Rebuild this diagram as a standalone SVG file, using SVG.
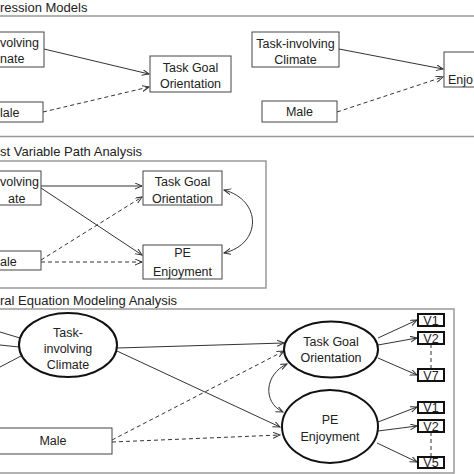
<svg xmlns="http://www.w3.org/2000/svg" width="474" height="474" viewBox="0 0 474 474">
<defs>
<marker id="ah" markerWidth="8" markerHeight="8" refX="7" refY="3" orient="auto" markerUnits="userSpaceOnUse">
<path d="M0,0 L7,3 L0,6" fill="none" stroke="#333" stroke-width="1"/>
</marker>
<marker id="ahs" markerWidth="8" markerHeight="8" refX="7" refY="3" orient="auto-start-reverse" markerUnits="userSpaceOnUse">
<path d="M0,0 L7,3 L0,6" fill="none" stroke="#333" stroke-width="1"/>
</marker>
<style>
text{font-family:"Liberation Sans",Arial,sans-serif;font-size:12.5px;fill:#222}
.t{font-size:13px}
.c{text-anchor:middle}
.box{fill:#fff;stroke:#444;stroke-width:1}
.vb{fill:#fff;stroke:#111;stroke-width:2}
.ell{fill:#fff;stroke:#111;stroke-width:2}
.sec{fill:none;stroke:#999;stroke-width:1.5}
.ln{fill:none;stroke:#333;stroke-width:1}
.ar{fill:none;stroke:#333;stroke-width:1;marker-end:url(#ah)}
.da{stroke-dasharray:4,3}
</style>
</defs>
<rect width="474" height="474" fill="#fff"/>

<g id="sections">
<text class="t" x="0" y="12">ression Models</text>
<line class="sec" x1="0" y1="16" x2="474" y2="16"/>
<line class="sec" x1="0" y1="136.5" x2="474" y2="136.5"/>
<text class="t" x="0" y="156">st Variable Path Analysis</text>
<path class="sec" d="M-2,161 H266 V288 H-2"/>
<text class="t" x="0" y="305">ral Equation Modeling Analysis</text>
<path class="sec" d="M-2,309 H454 V473 H-2"/>
</g>

<g id="connectors">
<line class="ar" x1="44" y1="49" x2="149" y2="74"/>
<line class="ar da" x1="43" y1="112" x2="149" y2="87"/>
<line class="ar" x1="339" y1="49" x2="443" y2="69"/>
<line class="ar da" x1="337" y1="112" x2="443" y2="77"/>

<line class="ar" x1="41" y1="186" x2="142" y2="186"/>
<line class="ar" x1="41" y1="188" x2="142" y2="255"/>
<line class="ar da" x1="41" y1="260" x2="142" y2="197"/>
<line class="ar da" x1="41" y1="262" x2="142" y2="262"/>
<path class="ln" d="M224,190 C262,200 262,244 224,253" marker-start="url(#ahs)" marker-end="url(#ah)"/>

<line class="ln" x1="0" y1="332" x2="20" y2="338"/>
<line class="ln" x1="0" y1="345" x2="19" y2="347"/>
<line class="ln" x1="0" y1="367" x2="21" y2="356"/>
<line class="ar" x1="117" y1="348" x2="284" y2="343"/>
<line class="ar" x1="117" y1="351" x2="280" y2="427"/>
<line class="ar da" x1="112" y1="440" x2="284" y2="351"/>
<line class="ar da" x1="112" y1="442" x2="280" y2="435"/>
<path class="ln" d="M287,364 C265,374 262,402 283,412" marker-start="url(#ahs)" marker-end="url(#ah)"/>

<line class="ar" x1="378" y1="338" x2="417" y2="320"/>
<line class="ar" x1="378" y1="345" x2="417" y2="338"/>
<line class="ar" x1="378" y1="358" x2="417" y2="375"/>
<line class="ar" x1="378" y1="422" x2="417" y2="407"/>
<line class="ar" x1="378" y1="431" x2="417" y2="426"/>
<line class="ar" x1="377" y1="443" x2="417" y2="462"/>
<line class="ln da" x1="431" y1="344" x2="431" y2="369" stroke-width="1.5"/>
<line class="ln da" x1="431" y1="432" x2="431" y2="457" stroke-width="1.5"/>
</g>

<g id="a-tic"><rect class="box" x="-2" y="32" width="46" height="35"/><text x="0" y="47">volving</text><text x="0" y="63">nate</text></g>
<g id="a-male"><rect class="box" x="-2" y="102" width="45" height="20"/><text x="0" y="117">lale</text></g>
<g id="a-tgo"><rect class="box" x="150" y="56" width="81" height="36"/><text class="c" x="190.5" y="72">Task Goal</text><text class="c" x="190.5" y="88">Orientation</text></g>
<g id="a-tic2"><rect class="box" x="252" y="32" width="87" height="35"/><text class="c" x="295.5" y="48">Task-involving</text><text class="c" x="295.5" y="64">Climate</text></g>
<g id="a-male2"><rect class="box" x="262" y="101" width="75" height="21"/><text class="c" x="299.5" y="116">Male</text></g>
<g id="a-enj"><rect class="box" x="444" y="52" width="40" height="35"/><text x="448" y="84">Enjo</text></g>

<g id="b-tic"><rect class="box" x="-2" y="171" width="43" height="34"/><text x="0" y="186">volving</text><text x="8" y="203">ate</text></g>
<g id="b-male"><rect class="box" x="-2" y="251" width="43" height="19"/><text x="0" y="266">ale</text></g>
<g id="b-tgo"><rect class="box" x="143" y="171" width="79" height="34"/><text class="c" x="182.5" y="186">Task Goal</text><text class="c" x="182.5" y="203">Orientation</text></g>
<g id="b-pe"><rect class="box" x="143" y="245" width="79" height="34"/><text class="c" x="182.5" y="257">PE</text><text class="c" x="182.5" y="276">Enjoyment</text></g>

<g id="c-tic"><ellipse class="ell" cx="68" cy="345" rx="49" ry="32"/><text class="c" x="68" y="337">Task-</text><text class="c" x="68" y="353">involving</text><text class="c" x="68" y="369">Climate</text></g>
<g id="c-male"><rect class="box" x="-2" y="428" width="114" height="26"/><text class="c" x="53" y="445">Male</text></g>
<g id="c-tgo"><ellipse class="ell" cx="331" cy="349.5" rx="47" ry="28"/><text class="c" x="331" y="346">Task Goal</text><text class="c" x="331" y="362">Orientation</text></g>
<g id="c-pe"><ellipse class="ell" cx="330" cy="426.5" rx="48" ry="36.5"/><text class="c" x="330" y="424">PE</text><text class="c" x="330" y="441">Enjoyment</text></g>

<g id="v1a"><rect class="vb" x="418" y="314" width="26" height="12"/><text class="c" x="431" y="324.5">V1</text></g>
<g id="v2a"><rect class="vb" x="418" y="332" width="26" height="12"/><text class="c" x="431" y="342.5">V2</text></g>
<g id="v7a"><rect class="vb" x="418" y="369" width="26" height="12"/><text class="c" x="431" y="379.5">V7</text></g>
<g id="v1b"><rect class="vb" x="418" y="402" width="26" height="11"/><text class="c" x="431" y="412">V1</text></g>
<g id="v2b"><rect class="vb" x="418" y="420" width="26" height="12"/><text class="c" x="431" y="430.5">V2</text></g>
<g id="v5b"><rect class="vb" x="418" y="457" width="26" height="11"/><text class="c" x="431" y="467">V5</text></g>
</svg>
